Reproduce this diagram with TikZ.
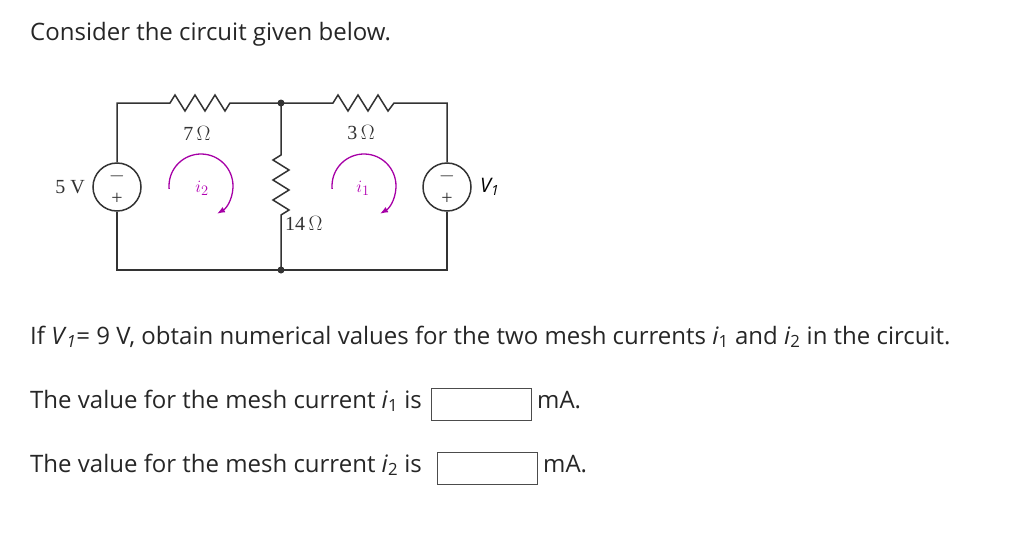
\documentclass[tikz,border=0pt]{standalone}
\usepackage{fontspec}
\setmainfont{Open Sans}
\newfontfamily\ckt{Liberation Serif}
\usetikzlibrary{arrows.meta}
\tikzset{wire/.style={line width=1.5pt,black!80},
 txt/.style={anchor=base west,inner sep=0pt,font=\fontsize{24}{28}\selectfont,text=black!85},
 clbl/.style={font=\ckt\fontsize{20}{24}\selectfont,inner sep=0pt,text=black!80},
 mesh/.style={line width=1.3pt,violet!70!magenta,-{Latex[length=8pt]}},
 ansbox/.style={draw=black!70,line width=0.8pt,minimum width=100pt,minimum height=32pt,inner sep=0pt}}
\begin{document}
\begin{tikzpicture}[x=1pt,y=-1pt]
\useasboundingbox (0,0) rectangle (1024,544);
\node[txt] (t1) at (30,40) {Consider the circuit given below.};
% nodes
\coordinate (tl) at (117,103); \coordinate (tm) at (281,103); \coordinate (tr) at (447,103);
\coordinate (bl) at (117,270); \coordinate (bm) at (281,270); \coordinate (br) at (447,270);
\node[circle,draw=black!80,line width=1.5pt,minimum size=48pt,inner sep=0pt] (s1) at (117,187) {};
\node[circle,draw=black!80,line width=1.5pt,minimum size=48pt,inner sep=0pt] (s2) at (447,187) {};
\node[clbl] at (117,176) {$-$}; \node[clbl] at (117,199) {+};
\node[clbl] at (447,176) {$-$}; \node[clbl] at (447,199) {+};
% wires
\draw[wire] (s1.north) -- (tl) -- (170,103) -- ++(5,-8) -- ++(10,16) -- ++(10,-16) -- ++(10,16) -- ++(10,-16) -- ++(10,16) -- ++(5,-8) -- (tm) -- (333,103) -- ++(5,-8) -- ++(10,16) -- ++(10,-16) -- ++(10,16) -- ++(10,-16) -- ++(10,16) -- ++(6,-8) -- (tr) -- (s2.north);
\draw[wire] (s1.south) -- (bl) -- (br) -- (s2.south);
\draw[wire] (tm) -- (281,155) -- ++(-8,5) -- ++(16,10) -- ++(-16,10) -- ++(16,10) -- ++(-16,10) -- ++(16,10) -- ++(-8,5) -- (bm);
\fill[black!80] (tm) circle (3.5pt) (bm) circle (3.5pt);
% labels
\node[clbl] at (197,133) {7\,$\Omega$};
\node[clbl] at (361,133) {3\,$\Omega$};
\node[clbl,anchor=west] at (285,223) {14\,$\Omega$};
\node[clbl,anchor=east] at (85,187) {5 V};
\node[anchor=west,inner sep=0pt,font=\fontsize{20}{24}\selectfont\itshape] at (480,187) {V\textsubscript{1}};
% meshes
\draw[mesh] (201,186) ++(-185:32) arc[start angle=-185,end angle=60,radius=32];
\draw[mesh] (364,186) ++(-185:32) arc[start angle=-185,end angle=60,radius=32];
\node[font=\fontsize{19}{22}\selectfont,text=violet!60!magenta] at (202,188) {$i_2$};
\node[font=\fontsize{19}{22}\selectfont,text=violet!60!magenta] at (363,188) {$i_1$};
% text
\node[txt] (t2) at (30,344) {If \textit{V}\textsubscript{\textit{1}}= 9 V, obtain numerical values for the two mesh currents \textit{i}\textsubscript{1} and \textit{i}\textsubscript{2} in the circuit.};
\node[txt] (t3) at (30,408) {The value for the mesh current \textit{i}\textsubscript{1} is};
\node[ansbox,anchor=west] (b1) at (431,404) {};
\node[txt] at (537,408) {mA.};
\node[txt] (t4) at (30,472) {The value for the mesh current \textit{i}\textsubscript{2} is};
\node[ansbox,anchor=west] (b2) at (437,468) {};
\node[txt] at (543,472) {mA.};
\end{tikzpicture}
\end{document}
